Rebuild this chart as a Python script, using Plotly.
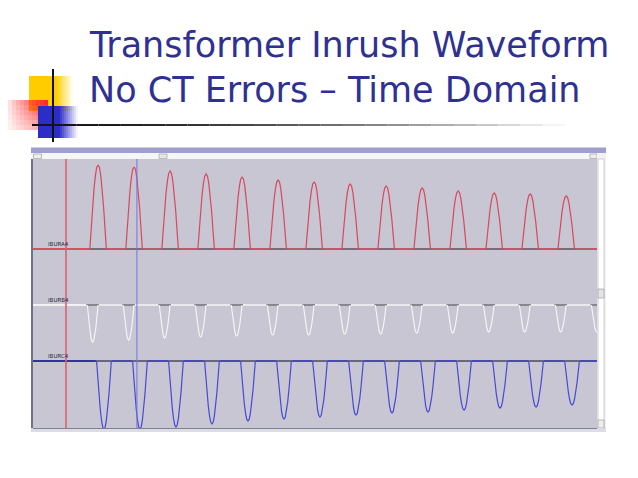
import plotly.graph_objects as go

# ---------------- data ----------------
time_range_ms = [0, 260]
cursor_times_ms = [15.2, 47.9]
channel_names = ["IBURA4", "IBURB4", "IBURC4"]

ia_peak_times = [30.0, 46.6, 63.2, 79.8, 96.4, 113.0, 129.6, 146.2, 162.8, 179.4, 196.0, 212.6, 229.2, 245.8]
ia_peak_values = [84, 82, 78, 75, 72, 69, 67, 65, 63, 61, 58, 56, 55, 53]

ib_peak_times = [27.5, 44.1, 60.7, 77.3, 93.9, 110.5, 127.1, 143.7, 160.3, 176.9, 193.5, 210.1, 226.7, 243.3, 259.9]
ib_peak_values = [-37, -35, -33, -32, -31, -30, -30, -29, -29, -28, -28, -27, -27, -27, -27]

ic_peak_times = [32.7, 49.3, 65.9, 82.5, 99.1, 115.7, 132.3, 148.9, 165.5, 182.1, 198.7, 215.3, 231.9, 248.5]
ic_peak_values = [-68, -68, -66, -63, -60, -58, -56, -54, -52, -51, -49, -47, -46, -44]

pulse_shape_u = [-1.0, -0.83, -0.67, -0.5, -0.33, -0.17, 0.0, 0.17, 0.33, 0.5, 0.67, 0.83, 1.0]
pulse_shape_v = [0.0, 0.26, 0.5, 0.71, 0.87, 0.97, 1.0, 0.97, 0.87, 0.71, 0.5, 0.26, 0.0]

title_lines = ["Transformer Inrush Waveform", "No CT Errors \u2013 Time Domain"]

# ---------------- layout constants ----------------
OFF = 8                      # page body margin of the browser
W, H = 638 - OFF, 478 - OFF
PL, PR, PT, PB = 33, 597, 159, 428  # plot area in page pixels


def fx(px):
    return (px - PL) / (PR - PL)


def fy(py):
    return (PB - py) / (PB - PT)


def pulses(times, values, half_width):
    xs, ys = [], []
    for t, v in zip(times, values):
        for u, s in zip(pulse_shape_u, pulse_shape_v):
            xs.append(t + u * half_width)
            ys.append(v * s)
        xs.append(None)
        ys.append(None)
    return xs, ys


def base_segments(times, half_width):
    xs, ys = [], []
    for t in times:
        xs += [t - half_width - 0.4, t + half_width + 0.4, None]
        ys += [0, 0, None]
    return xs, ys


fig = go.Figure()

channels = [
    (ia_peak_times, ia_peak_values, 3.8, "y", "#d8485c", "#b8344a", "#de5064"),
    (ib_peak_times, ib_peak_values, 2.5, "y2", "#f4f4f6", "#f4f4f6", "#f4f4f6"),
    (ic_peak_times, ic_peak_values, 3.4, "y3", "#4848d4", "#20209c", "#2a2aa8"),
]
for times, vals, hw, yax, col, basecol, leadcol in channels:
    fig.add_trace(go.Scatter(x=list(time_range_ms), y=[0, 0], yaxis=yax, mode="lines",
                             line=dict(color=basecol, width=1.4), hoverinfo="skip"))
    fig.add_trace(go.Scatter(x=[time_range_ms[0], times[0] - hw], y=[0, 0], yaxis=yax, mode="lines",
                             line=dict(color=leadcol, width=1.4), hoverinfo="skip"))
    gx, gy = base_segments(times, hw)
    fig.add_trace(go.Scatter(x=gx, y=gy, yaxis=yax, mode="lines",
                             line=dict(color="#6e6e78", width=1.6), hoverinfo="skip"))
    xs, ys = pulses(times, vals, hw)
    fig.add_trace(go.Scatter(x=xs, y=ys, yaxis=yax, mode="lines",
                             line=dict(color=col, width=1.2), hoverinfo="skip"))

shapes = []
# cursors
shapes.append(dict(type="line", xref="x", yref="paper", x0=cursor_times_ms[0], x1=cursor_times_ms[0],
                   y0=0, y1=1, line=dict(color="#e0606e", width=1.6)))
shapes.append(dict(type="line", xref="x", yref="paper", x0=cursor_times_ms[1], x1=cursor_times_ms[1],
                   y0=0, y1=1, line=dict(color="#7474e0", width=1)))


def prect(x0, y0, x1, y1, color, opacity=1.0, layer="above", line=None):
    return dict(type="rect", xref="paper", yref="paper", x0=fx(x0), x1=fx(x1), y0=fy(y0), y1=fy(y1),
                fillcolor=color, opacity=opacity, layer=layer,
                line=line if line else dict(width=0))


def pline(x0, y0, x1, y1, color, width, opacity=1.0):
    return dict(type="line", xref="paper", yref="paper", x0=fx(x0), x1=fx(x1), y0=fy(y0), y1=fy(y1),
                line=dict(color=color, width=width), opacity=opacity)


# window frame around the chart
shapes.append(prect(31, 147.5, 606, 153, "#9e9ed0"))
shapes.append(prect(31, 153, 606, 159, "#f6f6f8"))
shapes.append(prect(33.5, 154, 41.5, 158.5, "#eeeeee", line=dict(color="#909090", width=0.6)))
shapes.append(prect(159, 154, 167, 158.5, "#e6e6e6", line=dict(color="#a0a0a0", width=0.6)))
shapes.append(prect(590, 154, 597, 158.5, "#eeeeee", line=dict(color="#909090", width=0.6)))
shapes.append(prect(31, 159, 33, 432, "#707088"))
shapes.append(prect(597, 153, 606, 432, "#f2f2f4"))
shapes.append(prect(598, 159, 604, 428, "#ffffff", line=dict(color="#b0b0b8", width=0.6)))
shapes.append(prect(598, 289, 604, 298, "#e4e4e4", line=dict(color="#909090", width=0.6)))
shapes.append(prect(598, 420, 604, 428, "#eeeeee", line=dict(color="#909090", width=0.6)))
shapes.append(prect(31, 428, 606, 432, "#dcdce4"))
shapes.append(pline(33, 428.5, 597, 428.5, "#808090", 1))

# slide decoration
shapes.append(prect(29, 76, 57, 111, "#ffcc00"))
for i in range(8):
    x0 = 57 + i * 2
    shapes.append(prect(x0, 76, x0 + 2, 111, "#ffcc00", opacity=max(0.0, 1 - (i + 1) / 8.5)))
nx, ny = 10, 6
for i in range(nx):
    for j in range(ny):
        x0 = 8 + i * 4
        y0 = 100 + j * 5
        a = ((i + 1) / nx) ** 0.8 * (1 - 0.55 * j / (ny - 1))
        shapes.append(prect(x0, y0, x0 + 4, y0 + 5, "#ff2a2a", opacity=a))
shapes.append(prect(38, 106, 60, 138, "#2c2cc8"))
for i in range(9):
    x0 = 60 + i * 2
    shapes.append(prect(x0, 106, x0 + 2, 138, "#2c2cc8", opacity=max(0.0, 1 - (i + 1) / 9.5)))
shapes.append(pline(53, 69, 53, 142, "#111111", 2))
nseg = 24
for k in range(nseg):
    x0 = 32 + k * (565 - 32) / nseg
    x1 = 32 + (k + 1) * (565 - 32) / nseg
    g = int(20 + 225 * (k / (nseg - 1)) ** 1.6)
    shapes.append(pline(x0, 125, x1, 125, "rgb(%d,%d,%d)" % (g, g, g), 2))

annotations = []
for line_text, ypx in zip(title_lines, [45.5, 90.5]):
    annotations.append(dict(text=line_text, xref="paper", yref="paper", x=fx(86.5), y=fy(ypx),
                            xanchor="left", yanchor="middle", showarrow=False,
                            font=dict(family="DejaVu Sans", size=35, color="#2e3192")))
for name, yax in zip(channel_names, ["y", "y2", "y3"]):
    annotations.append(dict(text=name, xref="paper", yref=yax, x=fx(46), y=0,
                            xanchor="left", yanchor="bottom", yshift=0, showarrow=False,
                            font=dict(family="DejaVu Sans", size=5.5, color="#2a2a38")))

fig.update_layout(
    width=W, height=H,
    margin=dict(l=PL - OFF, r=638 - PR, t=PT - OFF, b=478 - PB, pad=0),
    paper_bgcolor="white", plot_bgcolor="#c7c6d2",
    showlegend=False,
    xaxis=dict(range=time_range_ms, visible=False, fixedrange=True),
    yaxis=dict(range=[-179, 90], visible=False, domain=[0, 1]),
    yaxis2=dict(range=[-123, 146], visible=False, overlaying="y"),
    yaxis3=dict(range=[-67, 202], visible=False, overlaying="y"),
    shapes=shapes,
    annotations=annotations,
)

fig.write_html("out.html", config=dict(displayModeBar=False))
